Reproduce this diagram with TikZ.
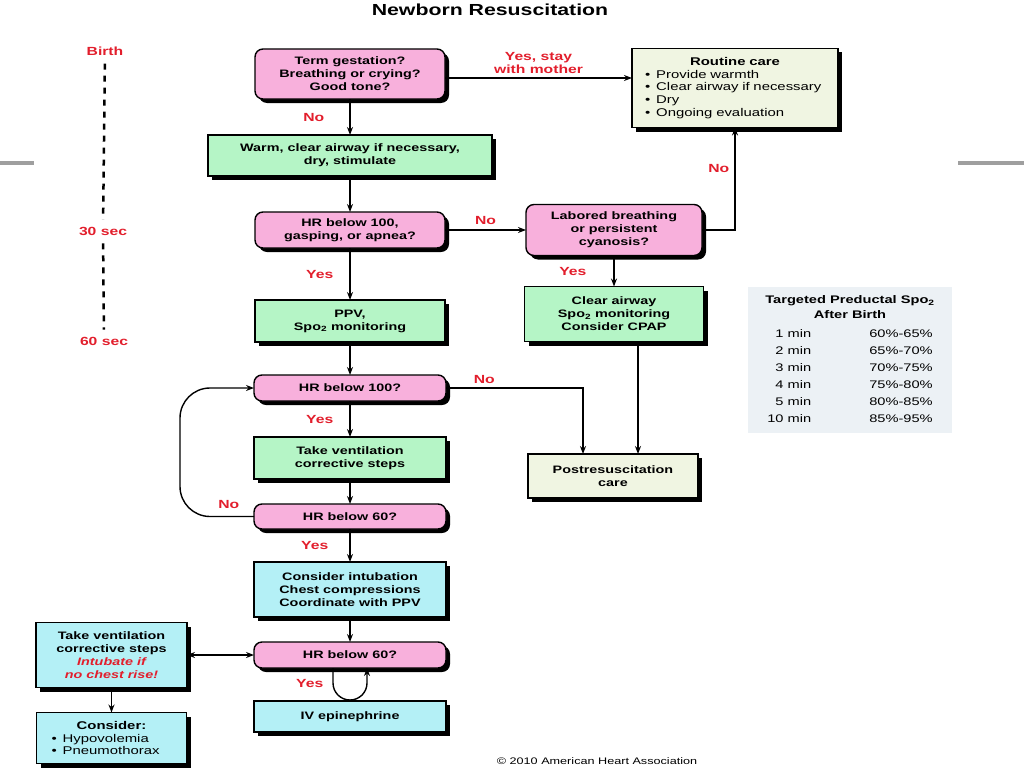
\documentclass[tikz,border=0pt]{standalone}
\usepackage{fontspec}
\setmainfont{Liberation Sans}[FakeStretch=1.33]
\usetikzlibrary{positioning,shadows,arrows.meta}
\definecolor{boxpink}{RGB}{248,176,220}
\definecolor{boxgreen}{RGB}{181,245,198}
\definecolor{boxcyan}{RGB}{180,240,246}
\definecolor{boxcream}{RGB}{240,245,226}
\definecolor{tablegray}{RGB}{236,241,245}
\definecolor{labelred}{RGB}{226,30,44}
\tikzset{base node/.style={draw,line width=1.4pt,outer sep=0pt,align=center,inner sep=3pt,minimum width=192pt,
    font=\bfseries\fontsize{10.8}{13}\selectfont,
    drop shadow={shadow xshift=4pt,shadow yshift=-4pt,fill=black,opacity=1}},
  pink node/.style={base node,fill=boxpink,rounded corners=8pt},
  green node/.style={base node,fill=boxgreen},
  cyan node/.style={base node,fill=boxcyan},
  cream node/.style={base node,fill=boxcream},
  list node/.style={align=left,font=\mdseries\fontsize{11.2}{12.6}\selectfont},
  red label/.style={text=labelred,align=center,inner sep=1pt,font=\bfseries\fontsize{11.8}{12.5}\selectfont},
  table box/.style={fill=tablegray,minimum width=204pt,minimum height=146pt,inner sep=0pt,
    font=\fontsize{11}{17}\selectfont},
  flow/.style={->,line width=1.4pt},
  both flow/.style={<->,line width=1.4pt},
  time line/.style={line width=2.5pt,dash pattern=on 6pt off 6pt,shorten <=7pt,shorten >=6pt},
  slide bar/.style={line width=4pt,gray!75},
}

\begin{document}
\begin{tikzpicture}[x=1pt,y=-1pt,node distance=36pt,>={Stealth[length=8pt,width=6pt]}]
	\useasboundingbox (0,0) rectangle (1024,768);
	\draw[slide bar] (0,163) -- (34,163);
	\draw[slide bar] (958,163) -- (1024,163);
	\node[font=\bfseries\fontsize{16}{18}\selectfont] (title) at (490,10) {Newborn Resuscitation};
	
	\node[red label] (birth) at (105,51) {Birth};
	\node[red label] (sec30) at (103,231) {30 sec};
	\node[red label] (sec60) at (104,341) {60 sec};
	\draw[time line] (birth) -- (sec30);
	\draw[time line] (sec30) -- (sec60);
	
	\node[pink node,minimum width=190pt,minimum height=50pt] (term) at (350,74) {Term gestation?\\Breathing or crying?\\Good tone?};
	\node[green node,minimum width=284pt,minimum height=41pt] (warm)[below = of term]{Warm, clear airway if necessary,\\dry, stimulate};
	\node[pink node,minimum width=190pt,minimum height=36pt] (hr100a)[below = of warm]{HR below 100,\\gasping, or apnea?};
	\node[green node,minimum width=190pt,minimum height=42pt] (ppv)[below = 52pt of hr100a]{PPV,\\Spo\textsubscript{2} monitoring};
	\node[pink node,minimum height=26pt] (hr100b)[below = 33pt of ppv]{HR below 100?};
	\node[green node,minimum height=42pt] (takevent)[below = of hr100b]{Take ventilation\\corrective steps};
	\node[pink node,minimum height=25pt] (hr60a)[below = 25pt of takevent]{HR below 60?};
	\node[cyan node,minimum height=55pt] (intub)[below = 33pt of hr60a]{Consider intubation\\Chest compressions\\Coordinate with PPV};
	\node[pink node,minimum height=26pt] (hr60b)[below = 25pt of intub]{HR below 60?};
	\node[cyan node,minimum height=31pt] (epi)[below = 33pt of hr60b]{IV epinephrine};
	
	\node[cream node,list node,text width=180pt,inner xsep=13pt,minimum height=79pt] (routine) at (735,88)
		{\makebox[\hsize]{\textbf{Routine care}}\\
		\textbullet\hspace{6pt}Provide warmth\\
		\textbullet\hspace{6pt}Clear airway if necessary\\
		\textbullet\hspace{6pt}Dry\\
		\textbullet\hspace{6pt}Ongoing evaluation};
	\node[pink node,minimum width=176pt,minimum height=51pt] (labored)[right = 81pt of hr100a]{Labored breathing\\or persistent\\cyanosis?};
	\node[green node,minimum width=179pt,minimum height=55pt] (cpap)[below = 31pt of labored]{Clear airway\\Spo\textsubscript{2} monitoring\\Consider CPAP};
	\node[cream node,minimum width=170pt,minimum height=44pt] (postres) at (613,476) {Postresuscitation\\care};
	
	\node[cyan node,minimum width=151pt,minimum height=65pt] (leftvent)[left = 67pt of hr60b]{Take ventilation\\corrective steps\\
		\textcolor{labelred}{\itshape Intubate if}\\\textcolor{labelred}{\itshape no chest rise!}};
	\node[cyan node,list node,text width=120pt,inner xsep=15pt,minimum width=150pt,minimum height=51pt] (causes)[below = 25pt of leftvent]
		{\makebox[\hsize]{\textbf{Consider:}}\\
		\textbullet\hspace{6pt}Hypovolemia\\
		\textbullet\hspace{6pt}Pneumothorax};
	
	\node[table box] (spo2) at (850,360) {\begin{tabular}{@{}r@{\hspace{58pt}}r@{}}
		\multicolumn{2}{c}{\makebox[0pt]{\bfseries Targeted Preductal Spo\textsubscript{2}}}\\[-2pt]
		\multicolumn{2}{c}{\makebox[0pt]{\bfseries After Birth}}\\[2pt]
		1 min & 60\%-65\%\\
		2 min & 65\%-70\%\\
		3 min & 70\%-75\%\\
		4 min & 75\%-80\%\\
		5 min & 80\%-85\%\\
		10 min & 85\%-95\%
	\end{tabular}};
	
	\node[font=\fontsize{9.5}{11}\selectfont] (copyright) at (597,761) {\textcopyright{} 2010 American Heart Association};
	
	\draw[flow] (term) -- (warm) node[red label,midway,left=24pt] {No};
	\draw[flow] ([yshift=-4pt]term.east) -- ([yshift=-4pt]term.east -| routine.west)
		node[red label,midway,above=3pt] {Yes, stay\\with mother};
	\draw[flow] (warm) -- (hr100a);
	\draw[flow] (hr100a) -- (labored) node[red label,midway,above=4pt] {No};
	\draw[flow] (labored) -| (routine) node[red label,pos=0.8,left=4pt] {No};
	\draw[flow] (labored) -- (cpap) node[red label,midway,left=26pt] {Yes};
	\draw[flow] (hr100a) -- (ppv) node[red label,midway,left=15pt] {Yes};
	\draw[flow] (ppv) -- (hr100b);
	\draw[flow] (hr100b) -| ([xshift=-30pt]postres.north) node[red label,pos=0.14,above=3pt] {No};
	\draw[flow] ([xshift=24pt]cpap.south) -- ([xshift=24pt]cpap.south |- postres.north);
	\draw[flow] (hr100b) -- (takevent) node[red label,midway,left=15pt] {Yes};
	\draw[flow] (takevent) -- (hr60a);
	\draw[flow,rounded corners=30pt] (hr60a.west) -- node[red label,pos=0.34,above=6pt] {No} ++(-74pt,0) |- (hr100b.west);
	\draw[flow] (hr60a) -- (intub) node[red label,midway,left=20pt] {Yes};
	\draw[flow] (intub) -- (hr60b);
	\draw[both flow] (leftvent) -- (hr60b);
	\draw[flow] (leftvent) -- (causes);
	\draw[flow] ([xshift=-17pt]hr60b.south) -- ++(0,15) node[red label,left=8pt] {Yes}
		arc[start angle=180,end angle=360,radius=17pt] -- ([xshift=17pt]hr60b.south);
\end{tikzpicture}
\end{document}
